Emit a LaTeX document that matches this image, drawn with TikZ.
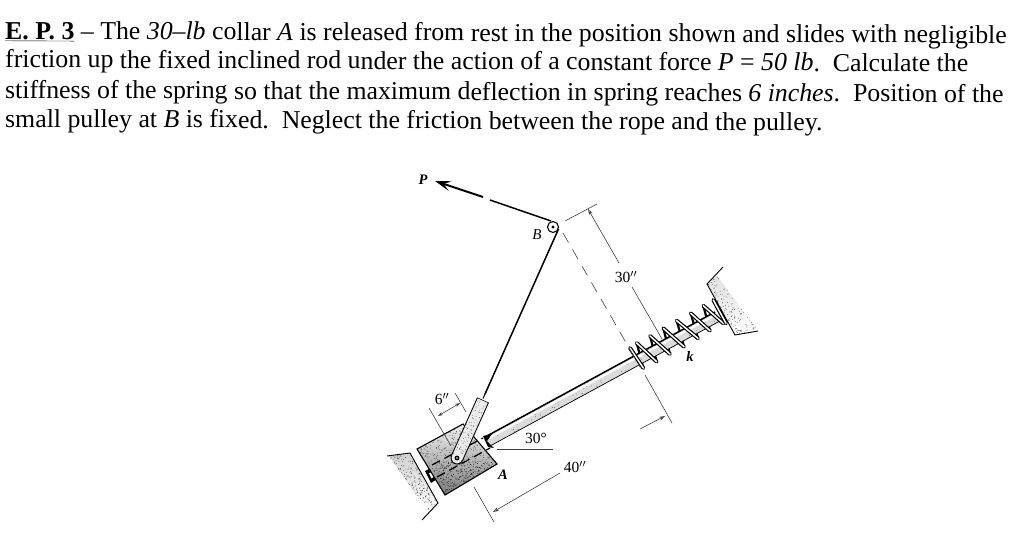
\documentclass[tikz,border=0pt]{standalone}
\usepackage{fontspec}
\setmainfont{Liberation Serif}
\usetikzlibrary{arrows.meta,calc}
\newcommand{\Stip}[6]{% xmin ymin xmax ymax n colour
  \foreach \ii in {1,...,#5}{%
    \pgfmathsetmacro{\xa}{#1+rnd*(#3-#1)}%
    \pgfmathsetmacro{\ya}{#2+rnd*(#4-#2)}%
    \fill[#6] (\xa,\ya) circle (0.42);
  }}
\tikzset{
  x=1pt,y=-1pt,
  bodytext/.style={anchor=base west,inner sep=0pt,font=\fontsize{25.8}{28}\selectfont,rotate=-0.25},
  lab/.style={inner sep=0pt,font=\fontsize{15.5}{15}\selectfont},
  ilab/.style={inner sep=0pt,font=\fontsize{14.5}{14}\selectfont\itshape\bfseries},
  dimline/.style={draw=black!75,line width=0.6pt},
  dimarrow/.style={dimline,-{Stealth[length=6pt,width=4pt,open]}},
  wallline/.style={draw=black,line width=0.9pt},
  coilstroke/.style={draw=black,line width=3.9pt,line cap=round},
  coilcore/.style={draw=white,line width=1.5pt,line cap=round},
}
\begin{document}
\begin{tikzpicture}
\pgfmathsetseed{4242}
\useasboundingbox[fill=white] (0,0) rectangle (1024,536);
% text
\node[bodytext] (l1) at (5,39) {\underline{\textbf{E. P. 3}} -- The \textit{30--lb} collar \textit{A} is released from rest in the position shown and slides with negligible};
\node[bodytext] (l2) at (5,67.5) {friction up the fixed inclined rod under the action of a constant force \textit{P} = \textit{50 lb}.\enspace Calculate the};
\node[bodytext] (l3) at (5,98) {stiffness of the spring so that the maximum deflection in spring reaches \textit{6 inches}.\enspace Position of the};
\node[bodytext] (l4) at (5,127) {small pulley at \textit{B} is fixed.\enspace Neglect the friction between the rope and the pulley.};
% coordinates
\coordinate (pin) at (457,458);
\coordinate (linktop) at (483,400);
\coordinate (ropetop) at (485,394);
\coordinate (pul) at (553,227);
% right wall
\shade[shading angle=60,top color=black!12,bottom color=white] (707,284) -- (717,276) -- (758,331) -- (735,335) -- cycle;
\begin{scope}
\clip (707,284) -- (717,276) -- (758,331) -- (735,335) -- cycle;
\Stip{705}{276}{760}{336}{420}{black!70}
\end{scope}
\draw[wallline] (723,267) -- (707,284) -- (735,335) -- (758,331);
% left wall
\shade[shading angle=-60,top color=black!18,bottom color=white] (389,456) -- (410,453) -- (438,503) -- (428,512) -- cycle;
\begin{scope}
\clip (389,456) -- (410,453) -- (438,503) -- (428,512) -- cycle;
\Stip{388}{452}{440}{514}{520}{black!75}
\end{scope}
\draw[wallline] (387,456) -- (410,453) -- (438,503) -- (422,520);
% bumper
\fill[black] (425,471) -- (431,468) -- (437,479) -- (431,483) -- cycle;
\fill[white] (429,473.5) -- (431.5,472) -- (434,476.5) -- (431.5,478.5) -- cycle;
% coils behind the rod
\foreach \xa/\ya/\xb/\yb in {643.3/368/636.7/343,656.7/361.7/650/336,670/354/663.3/328.3,684/346.7/676.7/320.7,698/338.3/690.7/313.3,710/330.7/703.3/305.7}{
  \draw[coilstroke,line width=2.2pt] (\xa,\ya) -- (\xb,\yb);
}
% rod
\fill[black!14] (485,437) -- (715,312) -- (720,321) -- (490,446) -- cycle;
\begin{scope}
\clip (485,437) -- (715,312) -- (720,321) -- (490,446) -- cycle;
\Stip{485}{312}{720}{446}{1100}{black!65}
\draw[white,line width=2.2pt] (486,439.5) -- (716,314.5);
\end{scope}
\draw[black,line width=1.5pt] (485,437) -- (715,312);
\draw[black,line width=0.7pt] (490,446) -- (720,321);
\fill[black] (483,436) -- (492,434) -- (487,441) -- (494,448) -- (488,447) -- cycle;
% coils front
\foreach \xa/\ya/\xb/\yb in {630/348/643.3/368,636.7/343/656.7/361.7,650/336/670/354,663.3/328.3/684/346.7,676.7/320.7/698/338.3,690.7/313.3/710/330.7,703.3/305.7/723.3/323.3,713.3/300/726/323.3}{
  \draw[coilstroke] (\xa,\ya) -- (\xb,\yb);
  \draw[coilcore] (\xa,\ya) -- (\xb,\yb);
}
% collar
\shade[shading angle=30,top color=black!6,middle color=black!14,bottom color=black!50] (417,449) -- (463,424) -- (497,464) -- (445,495) -- cycle;
\begin{scope}
\clip (417,449) -- (463,424) -- (497,464) -- (445,495) -- cycle;
\Stip{415}{423}{498}{498}{750}{black!75}
\Stip{436}{462}{498}{498}{320}{black}
\end{scope}
\draw[black,line width=1.1pt] (417,449) -- (463,424) -- (497,464) -- (445,495) -- cycle;
\draw[black,line width=1.3pt,dash pattern=on 9pt off 5pt] (432,465) -- (483,438);
\draw[black,line width=1.3pt,dash pattern=on 9pt off 5pt] (437,477) -- (490,448);
% link
\draw[black,line width=1pt] (483,398.5) -- (486,392);
\draw[black,line width=13pt] (pin) -- (linktop);
\fill[black] (pin) circle (6.5);
\draw[black!8,line width=11pt] (pin) -- ($(linktop)!0.7pt!(pin)$);
\fill[black!8] (pin) circle (5.5);
\begin{scope}
\clip (462,460.25) -- (452,455.75) -- (478,397.75) -- (488,402.25) -- cycle;
\Stip{450}{396}{490}{462}{300}{black!60}
\end{scope}
\fill[black] (pin) circle (2.4);
\fill[white] (pin) circle (0.9);
% pulley and rope
\draw[black,line width=1.5pt] (ropetop) -- ($(pul)+(5.5,2)$);
\fill[white] (pul) circle (5.5);
\draw[black,line width=1.1pt] (pul) circle (5.5);
\fill[black] (pul) circle (1.6);
\coordinate (ropeB) at (551,221);
\coordinate (gapA) at (490,200);
\coordinate (gapB) at (483,197);
\coordinate (Ptip) at (435,181);
\draw[black,line width=1.5pt] (ropeB) -- (gapA);
\draw[black,line width=2pt,-{Stealth[length=16pt,width=10pt,inset=7pt]}] (gapB) -- (Ptip);
% dashed centre line
\draw[dimline,dash pattern=on 11pt off 8pt] (563,233) -- (640,367);
% 30 inch dimension
\draw[dimline] (565,221) -- (597,204);
\draw[dimarrow] (619,263) -- (588,209);
\draw[dimline] (632,287) -- (662,339);
\node[lab] (d30) at (626,277) {30$''$};
\draw[dimline] (645,375) -- (672,423);
% 40 inch dimension
\draw[dimline] (474,487) -- (494,522);
\draw[dimarrow] (560,473) -- (493,512);
\draw[dimarrow] (640,429) -- (665,416);
\node[lab] (d40) at (575,467) {40$''$};
% 6 inch dimension
\draw[dimline] (429,408) -- (451,446);
\draw[dimline] (455,393) -- (466,412);
\draw[dimline,{Stealth[length=5pt,width=3.5pt,open]}-{Stealth[length=5pt,width=3.5pt,open]}] (438,416) -- (460,403);
\node[lab] (d6) at (442,399) {6$''$};
% 30 deg
\draw[dimline] (497,449) -- (553,449);
\node[lab] (ang) at (536,438.5) {30°};
% labels
\node[ilab] (P) at (423,180) {P};
\node[ilab,font=\fontsize{15}{15}\selectfont\itshape] (B) at (537,235) {B};
\node[ilab] (k) at (690,356) {k};
\node[ilab] (A) at (503,474.5) {A};
\end{tikzpicture}
\end{document}
